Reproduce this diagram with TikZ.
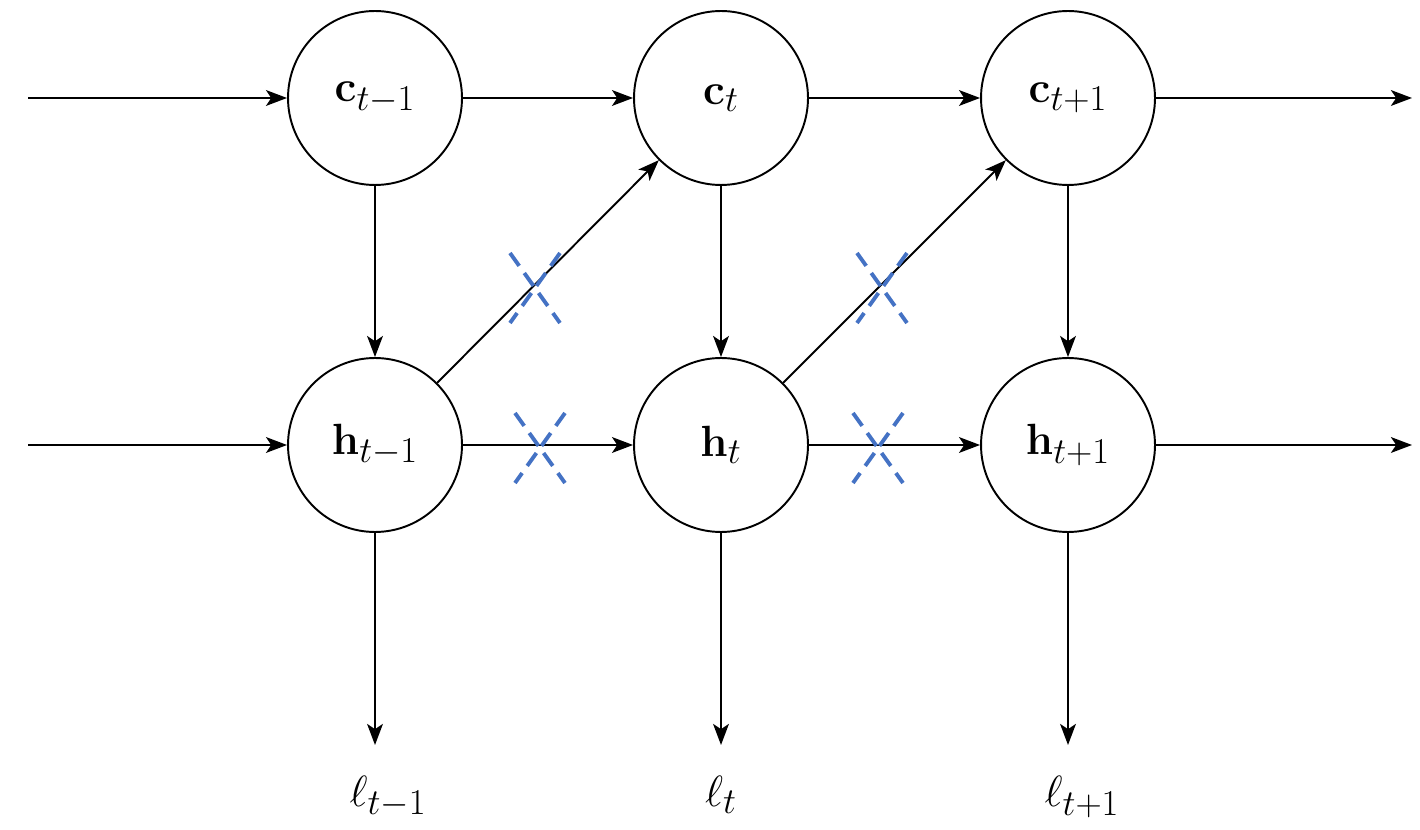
\documentclass[tikz,border=0pt]{standalone}
\usepackage{amsmath,bm}
\usetikzlibrary{arrows.meta}
\begin{document}
\begin{tikzpicture}[x=0.02cm,y=-0.02cm,
  nd/.style={circle,draw,line width=1.1pt,minimum size=3.48cm,inner sep=0pt,font=\fontsize{30}{36}\selectfont},
  lb/.style={inner sep=0pt,font=\fontsize{30}{36}\selectfont},
  ar/.style={line width=1.1pt,-{Stealth[length=12pt,width=9pt,inset=3pt]}},
  cr/.style={draw=blue!55!black!50!cyan!60!blue,color={rgb,255:red,68;green,114;blue,196},line width=2.2pt,dash pattern=on 9pt off 5pt}]
\useasboundingbox (0,0) rectangle (1420,830);
\node[nd] (c1) at (375,98) {$\mathbf{c}_{t-1}$};
\node[nd] (c2) at (721,98) {$\mathbf{c}_{t}$};
\node[nd] (c3) at (1068,98) {$\mathbf{c}_{t+1}$};
\node[nd] (h1) at (375,445) {$\mathbf{h}_{t-1}$};
\node[nd] (h2) at (721,445) {$\mathbf{h}_{t}$};
\node[nd] (h3) at (1068,445) {$\mathbf{h}_{t+1}$};
\node[lb] (l1) at (388,797) {$\ell_{t-1}$};
\node[lb] (l2) at (721,795) {$\ell_{t}$};
\node[lb] (l3) at (1082,797) {$\ell_{t+1}$};
\coordinate (ci) at (28,98); \coordinate (co) at (1412,98);
\coordinate (hi) at (28,445); \coordinate (ho) at (1412,445);
\coordinate (e1) at (375,745); \coordinate (e2) at (721,745); \coordinate (e3) at (1068,745);
\draw[ar] (ci) -- (c1); \draw[ar] (c1) -- (c2); \draw[ar] (c2) -- (c3); \draw[ar] (c3) -- (co);
\draw[ar] (hi) -- (h1); \draw[ar] (h1) -- (h2); \draw[ar] (h2) -- (h3); \draw[ar] (h3) -- (ho);
\draw[ar] (c1) -- (h1); \draw[ar] (c2) -- (h2); \draw[ar] (c3) -- (h3);
\draw[ar] (h1) -- (e1); \draw[ar] (h2) -- (e2); \draw[ar] (h3) -- (e3);
\draw[ar] (h1.45) -- (c2.225); \draw[ar] (h2.45) -- (c3.225);
\foreach \x/\y in {535/288,540/448,882/288,878/448}{
  \draw[cr] (\x-25,\y-35) -- (\x+25,\y+35);
  \draw[cr] (\x+25,\y-35) -- (\x-25,\y+35);}
\end{tikzpicture}
\end{document}
